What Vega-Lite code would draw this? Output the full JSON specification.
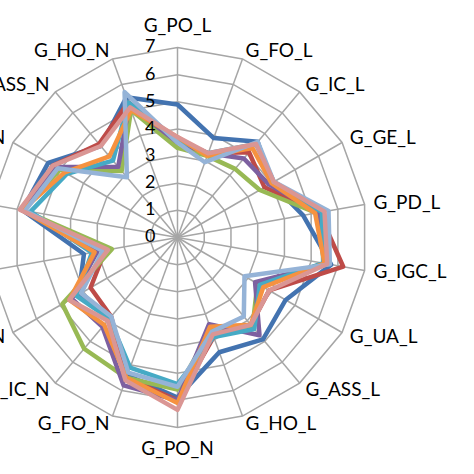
{
  "$schema": "https://vega.github.io/schema/vega-lite/v6.json",
  "width": 474,
  "height": 474,
  "padding": 0,
  "autosize": {"type": "none"},
  "background": "white",
  "config": {"view": {"stroke": null}, "text": {"font": "Lato", "color": "black"}},
  "datasets": {
    "axes": [
      {"axis": "G_PO_L", "i": 0, "ring": [1, 2, 3, 4, 5, 6, 7], "S1": 4.9, "S2": 3.6, "S3": 3.3, "S4": 3.5, "S5": 3.6, "S6": 3.7, "S7": 3.5, "S8": 3.7},
      {"axis": "G_FO_L", "i": 1, "ring": [1, 2, 3, 4, 5, 6, 7], "S1": 3.9, "S2": 3.3, "S3": 3.2, "S4": 3.3, "S5": 3.3, "S6": 3.2, "S7": 2.95, "S8": 3.3},
      {"axis": "G_IC_L", "i": 2, "ring": [1, 2, 3, 4, 5, 6, 7], "S1": 4.6, "S2": 4.1, "S3": 3.3, "S4": 3.8, "S5": 4.5, "S6": 4.3, "S7": 4.6, "S8": 4.5},
      {"axis": "G_GE_L", "i": 3, "ring": [1, 2, 3, 4, 5, 6, 7], "S1": 4.0, "S2": 3.7, "S3": 3.5, "S4": 3.9, "S5": 4.1, "S6": 4.0, "S7": 4.1, "S8": 4.1},
      {"axis": "G_PD_L", "i": 4, "ring": [1, 2, 3, 4, 5, 6, 7], "S1": 4.7, "S2": 5.3, "S3": 5.2, "S4": 5.3, "S5": 5.4, "S6": 5.15, "S7": 5.65, "S8": 5.5},
      {"axis": "G_IGC_L", "i": 5, "ring": [1, 2, 3, 4, 5, 6, 7], "S1": 5.75, "S2": 6.2, "S3": 5.5, "S4": 5.6, "S5": 5.45, "S6": 5.5, "S7": 5.7, "S8": 5.6},
      {"axis": "G_UA_L", "i": 6, "ring": [1, 2, 3, 4, 5, 6, 7], "S1": 4.6, "S2": 3.9, "S3": 3.4, "S4": 3.3, "S5": 3.5, "S6": 3.65, "S7": 2.85, "S8": 3.9},
      {"axis": "G_ASS_L", "i": 7, "ring": [1, 2, 3, 4, 5, 6, 7], "S1": 4.9, "S2": 4.2, "S3": 4.3, "S4": 4.7, "S5": 4.4, "S6": 4.2, "S7": 3.8, "S8": 4.2},
      {"axis": "G_HO_L", "i": 8, "ring": [1, 2, 3, 4, 5, 6, 7], "S1": 4.5, "S2": 3.9, "S3": 3.6, "S4": 3.4, "S5": 3.9, "S6": 3.5, "S7": 3.7, "S8": 3.8},
      {"axis": "G_PO_N", "i": 9, "ring": [1, 2, 3, 4, 5, 6, 7], "S1": 5.9, "S2": 6.0, "S3": 5.6, "S4": 6.0, "S5": 5.4, "S6": 6.1, "S7": 5.5, "S8": 6.35},
      {"axis": "G_FO_N", "i": 10, "ring": [1, 2, 3, 4, 5, 6, 7], "S1": 5.4, "S2": 5.5, "S3": 5.5, "S4": 5.8, "S5": 5.1, "S6": 5.5, "S7": 5.3, "S8": 5.6},
      {"axis": "G_IC_N", "i": 11, "ring": [1, 2, 3, 4, 5, 6, 7], "S1": 3.9, "S2": 3.8, "S3": 5.35, "S4": 4.3, "S5": 3.9, "S6": 4.2, "S7": 3.8, "S8": 4.0},
      {"axis": "G_GE_N", "i": 12, "ring": [1, 2, 3, 4, 5, 6, 7], "S1": 4.2, "S2": 3.7, "S3": 4.9, "S4": 4.5, "S5": 4.3, "S6": 4.6, "S7": 4.1, "S8": 4.6},
      {"axis": "G_PD_N", "i": 13, "ring": [1, 2, 3, 4, 5, 6, 7], "S1": 3.5, "S2": 2.7, "S3": 2.45, "S4": 3.0, "S5": 3.2, "S6": 3.1, "S7": 2.8, "S8": 2.6},
      {"axis": "G_IGC_N", "i": 14, "ring": [1, 2, 3, 4, 5, 6, 7], "S1": 5.8, "S2": 5.8, "S3": 5.8, "S4": 5.8, "S5": 5.5, "S6": 5.8, "S7": 5.7, "S8": 5.9},
      {"axis": "G_UA_N", "i": 15, "ring": [1, 2, 3, 4, 5, 6, 7], "S1": 5.5, "S2": 5.3, "S3": 5.0, "S4": 5.2, "S5": 4.7, "S6": 4.8, "S7": 5.1, "S8": 5.3},
      {"axis": "G_ASS_N", "i": 16, "ring": [1, 2, 3, 4, 5, 6, 7], "S1": 4.4, "S2": 4.5, "S3": 3.2, "S4": 3.4, "S5": 3.7, "S6": 3.9, "S7": 2.9, "S8": 4.4},
      {"axis": "G_HO_N", "i": 17, "ring": [1, 2, 3, 4, 5, 6, 7], "S1": 5.5, "S2": 5.3, "S3": 5.0, "S4": 5.2, "S5": 5.3, "S6": 5.0, "S7": 5.7, "S8": 5.1}
    ],
    "ticks": [{"t": 0}, {"t": 1}, {"t": 2}, {"t": 3}, {"t": 4}, {"t": 5}, {"t": 6}, {"t": 7}]
  },
  "layer": [
    {
      "data": {"name": "axes"},
      "transform": [
        {"flatten": ["ring"]},
        {"calculate": "datum.ring * sin(datum.i * PI / 9)", "as": "gx"},
        {"calculate": "datum.ring * cos(datum.i * PI / 9)", "as": "gy"}
      ],
      "mark": {"type": "line", "interpolate": "linear-closed", "color": "#A6A6A6", "strokeWidth": 1.5},
      "encoding": {
        "x": {"field": "gx", "type": "quantitative", "scale": {"domain": [-6.5395, 10.9237], "nice": false, "zero": false}, "axis": null},
        "y": {"field": "gy", "type": "quantitative", "scale": {"domain": [-8.7132, 8.75], "nice": false, "zero": false}, "axis": null},
        "detail": {"field": "ring", "type": "nominal"},
        "order": {"field": "i", "type": "quantitative"}
      }
    },
    {
      "data": {"name": "axes"},
      "transform": [
        {"calculate": "7 * sin(datum.i * PI / 9)", "as": "sx"},
        {"calculate": "7 * cos(datum.i * PI / 9)", "as": "sy"}
      ],
      "mark": {"type": "rule", "color": "#A6A6A6", "strokeWidth": 1.5},
      "encoding": {
        "x": {"field": "sx", "type": "quantitative"},
        "y": {"field": "sy", "type": "quantitative"},
        "x2": {"datum": 0},
        "y2": {"datum": 0}
      }
    },
    {
      "data": {"name": "axes"},
      "transform": [
        {"fold": ["S1", "S2", "S3", "S4", "S5", "S6", "S7", "S8"], "as": ["series", "v"]},
        {"calculate": "datum.v * sin(datum.i * PI / 9)", "as": "px"},
        {"calculate": "datum.v * cos(datum.i * PI / 9)", "as": "py"}
      ],
      "mark": {"type": "line", "interpolate": "linear-closed", "strokeWidth": 4.5, "strokeJoin": "round"},
      "encoding": {
        "x": {"field": "px", "type": "quantitative"},
        "y": {"field": "py", "type": "quantitative"},
        "color": {
          "field": "series",
          "type": "nominal",
          "scale": {
            "domain": ["S1", "S2", "S3", "S4", "S5", "S6", "S7", "S8"],
            "range": ["#4373B0", "#BE4B48", "#98B954", "#7D60A0", "#46AAC5", "#F69240", "#95B3D7", "#DA9694"]
          },
          "legend": null
        },
        "order": {"field": "i", "type": "quantitative"}
      }
    },
    {
      "data": {"name": "ticks"},
      "mark": {"type": "text", "align": "right", "baseline": "middle", "dx": -22, "fontSize": 18},
      "encoding": {
        "x": {"datum": 0},
        "y": {"field": "t", "type": "quantitative"},
        "text": {"field": "t", "type": "quantitative"}
      }
    },
    {
      "data": {"name": "axes"},
      "transform": [
        {"filter": "datum.i == 0 || datum.i == 9"},
        {"calculate": "7.8 * sin(datum.i * PI / 9)", "as": "lx"},
        {"calculate": "7.8 * cos(datum.i * PI / 9)", "as": "ly"}
      ],
      "mark": {"type": "text", "align": "center", "baseline": "middle", "fontSize": 19},
      "encoding": {
        "x": {"field": "lx", "type": "quantitative"},
        "y": {"field": "ly", "type": "quantitative"},
        "text": {"field": "axis", "type": "nominal"}
      }
    },
    {
      "data": {"name": "axes"},
      "transform": [
        {"filter": "datum.i > 0 && datum.i < 9"},
        {"calculate": "7.33 * sin(datum.i * PI / 9)", "as": "lx"},
        {"calculate": "7.33 * cos(datum.i * PI / 9)", "as": "ly"}
      ],
      "mark": {"type": "text", "align": "left", "baseline": "middle", "fontSize": 19},
      "encoding": {
        "x": {"field": "lx", "type": "quantitative"},
        "y": {"field": "ly", "type": "quantitative"},
        "text": {"field": "axis", "type": "nominal"}
      }
    },
    {
      "data": {"name": "axes"},
      "transform": [
        {"filter": "datum.i > 9"},
        {"calculate": "7.33 * sin(datum.i * PI / 9)", "as": "lx"},
        {"calculate": "7.33 * cos(datum.i * PI / 9)", "as": "ly"}
      ],
      "mark": {"type": "text", "align": "right", "baseline": "middle", "fontSize": 19},
      "encoding": {
        "x": {"field": "lx", "type": "quantitative"},
        "y": {"field": "ly", "type": "quantitative"},
        "text": {"field": "axis", "type": "nominal"}
      }
    }
  ]
}
